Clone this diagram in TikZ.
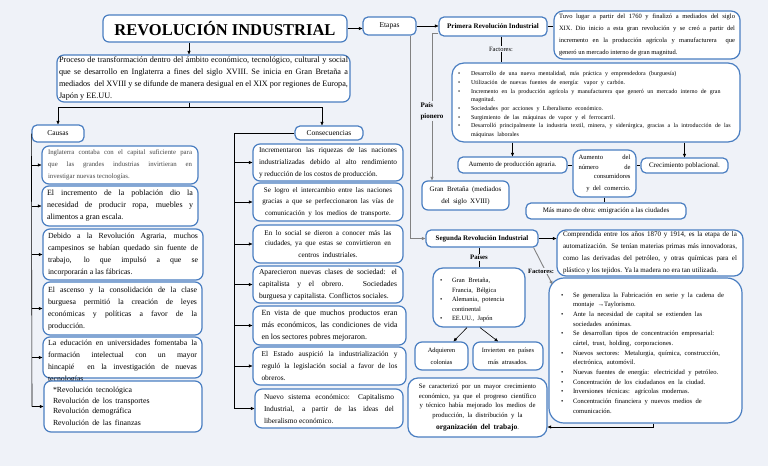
\documentclass[tikz,border=0pt]{standalone}
\usepackage{fontspec}
\setmainfont{Liberation Serif}
\usetikzlibrary{arrows.meta}
\definecolor{bg}{RGB}{239,242,248}
\definecolor{bblue}{RGB}{74,126,193}
\definecolor{lgray}{RGB}{130,130,130}
\definecolor{tgray}{RGB}{70,70,70}
\hyphenpenalty=10000
\exhyphenpenalty=10000
\tolerance=9999
\newcommand\fsz[2]{\fontsize{#1}{#2}\selectfont}
\newcommand\bul[2]{\par\noindent\hangindent=#1\hangafter=1\hbox to #1{\hskip #2\textbullet\hfil}\ignorespaces}
\newcommand\nl{\hfil\break}
\begin{document}
\begin{tikzpicture}[x=1pt,y=-1pt,
  box/.style={draw=bblue, line width=1.2pt, fill=white, rounded corners=5pt, inner sep=0pt, align=center},
  conn/.style={line width=0.6pt, black},
  arr/.style={conn, -{Triangle[length=3.5pt,width=3pt]}},
  gconn/.style={line width=0.9pt, lgray},
  garr/.style={gconn, -{Triangle[length=3.5pt,width=3pt]}},
  lab/.style={inner sep=1pt, align=left}]
\fill[bg] (0,0) rectangle (768,466);
\useasboundingbox (0,0) rectangle (768,466);

\coordinate (tx) at (189,0);
\coordinate (kx) at (322,0);
\coordinate (ex) at (410,0);
\coordinate (cl) at (32,0);
\coordinate (kl) at (234,0);

% top
\node[box, rounded corners=6pt, minimum width=244pt, minimum height=27pt] (title) at (225,28.5) {\fsz{16.5}{18}\bfseries REVOLUCIÓN INDUSTRIAL};
\node[box, minimum width=53pt, minimum height=18pt] (etapas) at (389.5,26) {\fsz{7.5}{9}Etapas};
\node[box, rounded corners=7pt, minimum width=293pt, minimum height=47pt, text width=289pt, align=justify] (process) at (203.5,78.5) {\fsz{8.2}{9.4}Proceso de transformación dentro del ámbito económico, tecnológico, cultural y social\linebreak que se desarrollo en Inglaterra a fines del siglo XVIII. Se inicia en Gran Bretaña a\linebreak mediados\ \ del XVIII y se difunde de manera desigual en el XIX por regiones de Europa,\linebreak Japón y EE.UU.};
\node[box, minimum width=52pt, minimum height=17pt] (causas) at (58,133.5) {\fsz{7.5}{9}Causas};
\node[box, minimum width=68pt, minimum height=14pt] (consec) at (329,133) {\fsz{7.5}{9}Consecuencias};

% causas
\node[box, rounded corners=7pt, minimum width=156pt, minimum height=38pt, text width=144pt, align=justify] (c1) at (120,165) {\fsz{6.8}{10}\color{tgray}Inglaterra contaba con el capital suficiente para\linebreak que las grandes industrias invirtieran en\linebreak investigar nuevas tecnologías.};
\node[box, rounded corners=7pt, minimum width=156pt, minimum height=40pt, text width=146pt, align=justify] (c2) at (120,206) {\fsz{8}{10.2}El incremento de la población dio la\linebreak necesidad de producir ropa, muebles y\linebreak alimentos a gran escala.};
\node[box, rounded corners=7pt, minimum width=160pt, minimum height=51pt, text width=150pt, align=justify] (c3) at (123,254.5) {\fsz{7.8}{10.3}Debido a la Revolución Agraria, muchos\linebreak campesinos se habían quedado sin fuente de\linebreak \ \ trabajo, lo que impulsó a que se\linebreak incorporarán a las fábricas.};
\node[box, rounded corners=7pt, minimum width=159pt, minimum height=53pt, text width=149pt, align=justify] (c4) at (122.5,308.5) {\fsz{7.8}{10.6}El ascenso y la consolidación de la clase\linebreak burguesa permitió la creación de leyes\linebreak económicas y políticas a favor de la\linebreak producción.};
\node[box, rounded corners=7pt, minimum width=159pt, minimum height=41pt] (c5) at (122.5,357.5) {};
\node[text width=149pt, align=justify, anchor=north, inner sep=0pt] (c5t) at ([yshift=-3pt]c5.north) {\fsz{7.8}{10.3}La educación en universidades fomentaba la\linebreak \ \ formación intelectual con un mayor\linebreak hincapié\ \ en la investigación de nuevas\linebreak tecnologías};
\node[box, rounded corners=7pt, minimum width=158pt, minimum height=51pt, text width=140pt, align=left] (c6) at (123,406.5) {\fsz{7.8}{10.5}*Revolución tecnológica\\*Revolución de los transportes\\*Revolución demográfica\\*Revolución de las finanzas};

% consecuencias
\node[box, rounded corners=7pt, minimum width=150pt, minimum height=37pt, text width=138pt, align=justify] (k1) at (328,162.5) {\fsz{7.3}{11}Incrementaron las riquezas de las naciones\linebreak industrializadas debido al alto rendimiento\linebreak y reducción de los costos de producción.};
\node[box, rounded corners=7pt, minimum width=150pt, minimum height=38pt, text width=142pt] (k2) at (328,202) {\fsz{7.1}{10.8}Se logro el intercambio entre las naciones\\gracias a que se perfeccionaron las vías de\\comunicación y los medios de transporte.};
\node[box, rounded corners=7pt, minimum width=150pt, minimum height=38pt, text width=142pt] (k3) at (328,244) {\fsz{7.2}{10.8}En lo social se dieron a conocer más las\\ciudades, ya que estas se convirtieron en\\centros industriales.};
\node[box, rounded corners=7pt, minimum width=150pt, minimum height=37pt, text width=138pt, align=justify] (k4) at (328,284.5) {\fsz{7.6}{10.8}Aparecieron nuevas clases de sociedad: el\linebreak capitalista y el obrero. Sociedades\linebreak burguesa y capitalista. Conflictos sociales.};
\node[box, rounded corners=7pt, minimum width=153pt, minimum height=39pt, text width=136pt, align=justify] (k5) at (329.5,325.5) {\fsz{7.9}{11}En vista de que muchos productos eran\linebreak más económicos, las condiciones de vida\linebreak en los sectores pobres mejoraron.};
\node[box, rounded corners=7pt, minimum width=153pt, minimum height=38pt, text width=136pt, align=justify] (k6) at (329.5,366) {\fsz{7.4}{11}El Estado auspició la industrialización y\linebreak reguló la legislación social a favor de los\linebreak obreros.};
\node[box, rounded corners=7pt, minimum width=148pt, minimum height=39pt, text width=130pt, align=justify] (k7) at (329,408.5) {\fsz{7.4}{11}Nuevo sistema económico: Capitalismo\linebreak Industrial, a partir de las ideas del\linebreak liberalismo económico.};

% primera revolucion
\node[box, minimum width=108pt, minimum height=19pt] (primera) at (493,26.5) {\fsz{7}{9}\bfseries Primera Revolución Industrial};
\node[box, rounded corners=9pt, minimum width=186pt, minimum height=48pt, text width=176pt, align=justify] (d1) at (647,35) {\fsz{6.5}{9.6}Tuvo lugar a partir del 1760 y finalizó a mediados del siglo\linebreak XIX. Dio inicio a esta gran revolución y se creó a partir del\linebreak incremento en la producción agrícola y manufacturera\ \ que\linebreak generó un mercado interno de gran magnitud.};
\node[lab] (f1) at (501,49) {\fsz{6.5}{8}Factores:};
\node[box, rounded corners=12pt, minimum width=288pt, minimum height=79pt, text width=282pt, align=left] (b1) at (596,102.5) {\fsz{6.0}{8.7}%
\bul{16pt}{3pt}Desarrollo de una nueva mentalidad, más práctica y emprendedora (burguesía)
\bul{16pt}{3pt}Utilización de nuevas fuentes de energía: vapor y carbón.
\bul{16pt}{3pt}Incremento en la producción agrícola y manufacturera que generó un mercado interno de gran\nl magnitud.
\bul{16pt}{3pt}Sociedades por acciones y Liberalismo económico.
\bul{16pt}{3pt}Surgimiento de las máquinas de vapor y el ferrocarril.
\bul{16pt}{3pt}Desarrolló principalmente la industria textil, minera, y siderúrgica, gracias a la introducción de las\nl \ máquinas laborales\par};
\node[box, minimum width=109pt, minimum height=16pt] (agr) at (512.5,165) {\fsz{6.8}{8}Aumento de producción agraria.};
\node[box, rounded corners=8pt, minimum width=63pt, minimum height=47pt, text width=52pt, align=left] (aum) at (604.5,173.5) {\fsz{6.6}{9.8}Aumento\hfill del\\número\hfill de\\\hspace*{\fill}consumidores\hspace*{\fill}\\\hspace*{\fill}y del comercio.\hspace*{\fill}};
\node[box, minimum width=87pt, minimum height=15pt] (crec) at (684.5,165.5) {\fsz{7}{8}Crecimiento poblacional.};
\node[box, minimum width=160pt, minimum height=16pt] (mas) at (606,211) {\fsz{6.9}{8}Más mano de obra: emigración a las ciudades};
\node[box, rounded corners=6pt, minimum width=87pt, minimum height=29pt, text width=80pt] (gb) at (465.5,195.5) {\fsz{7}{10}Gran Bretaña (mediados\\del siglo XVIII)};
\node[lab, font=\fsz{7}{11}\bfseries] (pp) at (432,111) {País\\pionero};

% segunda revolucion
\node[box, minimum width=112pt, minimum height=17pt] (segunda) at (482,238.5) {\fsz{7}{9}\bfseries Segunda Revolución Industrial};
\node[box, rounded corners=9pt, minimum width=186pt, minimum height=46pt, text width=174pt, align=justify] (d2) at (650,253) {\fsz{7}{9}Comprendida entre los años 1870 y 1914, es la etapa de la\linebreak automatización. Se tenían materias primas más innovadoras,\linebreak como las derivadas del petróleo, y otras químicas para el\linebreak plástico y los tejidos. Ya la madera no era tan utilizada.};
\node[lab] (pl) at (479,257.5) {\fsz{6.8}{8}\bfseries Países};
\node[box, rounded corners=10pt, minimum width=92pt, minimum height=59pt, text width=84pt, align=left] (pb) at (479,297.5) {\fsz{6.5}{9.5}%
\bul{15pt}{3pt}Gran Bretaña,\nl Francia, Bélgica
\bul{15pt}{3pt}Alemania, potencia\nl continental
\bul{15pt}{3pt}EE.UU., Japón\par};
\node[box, rounded corners=7pt, minimum width=53pt, minimum height=28pt, text width=48pt] (adq) at (441.5,356) {\fsz{6.5}{9.5}Adquieren\\colonias};
\node[box, rounded corners=7pt, minimum width=70pt, minimum height=28pt, text width=66pt] (inv) at (508,356) {\fsz{6.5}{9.5}Invierten en países\\más atrasados.};
\node[box, rounded corners=15pt, minimum width=193pt, minimum height=145pt, text width=183pt, align=left] (fb) at (645.5,350.5) {\fsz{6.6}{9.67}%
\bul{19pt}{7pt}Se generaliza la Fabricación en serie y la cadena de\nl montaje →Taylorismo.
\bul{19pt}{7pt}Ante la necesidad de capital se extienden las\nl sociedades anónimas.
\bul{19pt}{7pt}Se desarrollan tipos de concentración empresarial:\nl cártel, trust, holding, corporaciones.
\bul{19pt}{7pt}Nuevos sectores: Metalurgia, química, construcción,\nl \ electrónica, automóvil.
\bul{19pt}{7pt}Nuevas fuentes de energía: electricidad y petróleo.
\bul{19pt}{7pt}Concentración de los ciudadanos en la ciudad.
\bul{19pt}{7pt}Inversiones técnicas: agrícolas modernas.
\bul{19pt}{7pt}Concentración financiera y nuevos medios de\nl comunicación.\par};
\node[box, rounded corners=10pt, minimum width=139pt, minimum height=59pt, text width=130pt] (sc) at (477.5,407.5) {\fsz{6.7}{9.5}Se caracterizó por un mayor crecimiento\\económico, ya que el progreso científico\\y técnico había mejorado los medios de\\producción, la distribución y la\\{\fontsize{7.5}{9.5}\selectfont\bfseries organización del trabajo}.};

% connectors
\draw[arr] (title.east) -- (title.east -| etapas.west);
\draw[arr] (tx |- title.south) -- (tx |- process.north);
\draw[arr] (tx |- process.south) -- ++(0,5) -| (causas.north);
\draw[arr] (tx |- process.south) -- ++(0,5) -| (kx |- consec.north);

\draw[conn] (causas.west) -- (cl |- c6.west);
\foreach \n in {c1,c2,c3,c4,c5,c6} \draw[arr] (cl |- \n.west) -- (\n.west);
\draw[conn] (consec.west) -- (kl |- consec.west) -- (kl |- k7.west);
\foreach \n in {k1,k2,k3,k4,k5,k6,k7} \draw[arr] (kl |- \n.west) -- (\n.west);

\draw[arr] (etapas.east) -- (etapas.east -| primera.west);
\draw[garr] (ex |- etapas.south) |- (segunda.west);
\draw[gconn] ([yshift=-6.5pt]primera.west) -| (pp.north);
\draw[garr] (pp.south) -- (pp.south |- gb.north);

\draw[conn] (primera.east) -- (primera.east -| d1.west);
\draw[conn, line width=1pt] (primera.south -| f1) -- (f1.north);
\draw[conn, line width=1pt] (f1.south) -- (f1.south |- b1.north);
\draw[arr] (b1.south -| agr.north) -- (agr.north);
\draw[arr] (b1.south -| crec.north) -- (crec.north);
\draw[conn, line width=1pt] (agr.east) -- (agr.east -| aum.west);
\draw[conn, line width=1pt] (aum.east |- crec.west) -- (crec.west);
\draw[conn, line width=1pt] (aum.south) -- (aum.south |- mas.north);

\draw[arr] (segunda.east) -- (segunda.east -| d2.west);
\draw[conn, line width=1pt] (segunda.south -| pl) -- (pl.north);
\draw[conn, line width=1pt] (pl.south) -- (pl.south |- pb.north);
\draw[garr] ([xshift=-5pt]segunda.south east) -- ([xshift=4pt,yshift=-7pt]fb.north west);
\node[lab, fill=bg] (f2) at (541,271) {\fsz{6.5}{8}\bfseries Factores:};
\draw[arr] ([xshift=-12pt]pb.south) -- ([xshift=12pt]adq.north);
\draw[arr] ([xshift=1pt]pb.south) -- ([xshift=-10pt]inv.north);
\draw[arr] ([xshift=7.5pt]fb.south) |- ([yshift=-19.5pt]sc.east);
\end{tikzpicture}
\end{document}
